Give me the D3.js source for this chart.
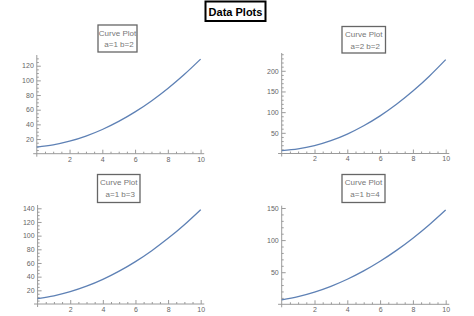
<!DOCTYPE html>
<html>
<head>
<meta charset="utf-8">
<script src="https://cdn.jsdelivr.net/npm/d3@7"></script>
<style>
  body { margin: 0; background: #fff; }
  svg { display: block; font-family: "Liberation Sans", Arial, sans-serif; }
</style>
</head>
<body>
<div id="chart"></div>
<script>
// values
const xValues = [0, 1, 2, 3, 4, 5, 6, 7, 8, 9, 10];
const curveA1B2 = [9, 12, 17, 24, 33, 44, 57, 72, 89, 108, 129];
const curveA2B2 = [7, 11, 19, 31, 47, 67, 91, 119, 151, 187, 227];
const curveA1B3 = [8, 12, 18, 26, 36, 48, 62, 78, 96, 116, 138];
const curveA1B4 = [7, 12, 19, 28, 39, 52, 67, 84, 103, 124, 147];
const panelTitles = ["a=1 b=2", "a=2 b=2", "a=1 b=3", "a=1 b=4"];
const xMajorTicks = [2, 4, 6, 8, 10];
const yMajorTicks = [
  [20, 40, 60, 80, 100, 120],
  [50, 100, 150, 200],
  [20, 40, 60, 80, 100, 120, 140],
  [50, 100, 150]
];
const yMinorStep = [5, 10, 5, 10];
const yTop = [134.6, 243, 144.8, 153.6];

const width = 474, height = 316;
const svg = d3.select("#chart").append("svg")
  .attr("width", width)
  .attr("height", height);

// Main title
const title = svg.append("g");
title.append("rect")
  .attr("x", 205.5).attr("y", 1.5)
  .attr("width", 60).attr("height", 19.5)
  .attr("fill", "#fff").attr("stroke", "#000").attr("stroke-width", 2);
title.append("text")
  .attr("x", 235.5).attr("y", 15.5)
  .attr("text-anchor", "middle")
  .attr("font-size", 11).attr("font-weight", "bold")
  .text("Data Plots");

const series = [curveA1B2, curveA2B2, curveA1B3, curveA1B4];
// plot frames [left, right, bottom, top] in px
const frames = [
  [36.8, 200.6, 153.7, 55],
  [281.7, 445.7, 153.5, 53],
  [37.6, 200.7, 304, 205],
  [281.7, 445.7, 304.3, 205.7]
];
const boxes = [
  [98, 25, 39, 27],
  [342, 26.5, 43.5, 26.5],
  [97.5, 174.5, 42.5, 28],
  [342, 174.5, 43, 28]
];

const axisColor = "#9a9a9a";
const labelColor = "#666";

series.forEach((vals, i) => {
  const [l, r, b, t] = frames[i];
  const x = d3.scaleLinear().domain([0, 10]).range([l, r]);
  const y = d3.scaleLinear().domain([0, yTop[i]]).range([b, t]);
  const g = svg.append("g");

  // x axis
  const xMinor = d3.range(0, 10.01, 0.5).filter(v => v % 2 !== 0);
  g.append("line")
    .attr("x1", x(-0.22)).attr("x2", x(10.22))
    .attr("y1", y(0)).attr("y2", y(0))
    .attr("stroke", axisColor);
  g.append("g")
    .attr("transform", `translate(0,${y(0)})`)
    .call(d3.axisBottom(x).tickValues(xMinor).tickSize(-2).tickFormat(""))
    .call(a => a.select(".domain").remove());
  g.append("g")
    .attr("transform", `translate(0,${y(0)})`)
    .call(d3.axisBottom(x).tickValues(xMajorTicks).tickSize(-4).tickPadding(3))
    .call(a => a.select(".domain").remove());

  // y axis
  const yMinor = d3.range(yMinorStep[i], yTop[i], yMinorStep[i])
    .filter(v => !yMajorTicks[i].includes(v));
  g.append("line")
    .attr("x1", x(0)).attr("x2", x(0))
    .attr("y1", y(0) + 3).attr("y2", y(yTop[i]))
    .attr("stroke", axisColor);
  g.append("g")
    .attr("transform", `translate(${x(0)},0)`)
    .call(d3.axisLeft(y).tickValues(yMinor).tickSize(-2).tickFormat(""))
    .call(a => a.select(".domain").remove());
  g.append("g")
    .attr("transform", `translate(${x(0)},0)`)
    .call(d3.axisLeft(y).tickValues(yMajorTicks[i]).tickSize(-4).tickPadding(3))
    .call(a => a.select(".domain").remove());

  g.selectAll(".tick line").attr("stroke", axisColor);
  g.selectAll(".tick text")
    .attr("fill", labelColor)
    .attr("font-size", 7)
    .attr("font-family", "Liberation Sans, Arial, sans-serif");

  // curve
  const line = d3.line()
    .x((d, k) => x(xValues[k]))
    .y(d => y(d))
    .curve(d3.curveMonotoneX);
  g.append("path")
    .datum(vals)
    .attr("d", line)
    .attr("fill", "none")
    .attr("stroke", "#5e81b5")
    .attr("stroke-width", 1.3);

  // panel label box
  const [bx, by, bw, bh] = boxes[i];
  g.append("rect")
    .attr("x", bx).attr("y", by)
    .attr("width", bw).attr("height", bh)
    .attr("fill", "#fff")
    .attr("stroke", "#666").attr("stroke-width", 1.3);
  g.append("text")
    .attr("x", bx + bw / 2).attr("y", by + 10.5)
    .attr("text-anchor", "middle")
    .attr("font-size", 8).attr("fill", "#777")
    .text("Curve Plot");
  g.append("text")
    .attr("x", bx + bw / 2 + 1.5).attr("y", by + 22)
    .attr("text-anchor", "middle")
    .attr("font-size", 8).attr("fill", "#777")
    .text(panelTitles[i]);
});
</script>
</body>
</html>
